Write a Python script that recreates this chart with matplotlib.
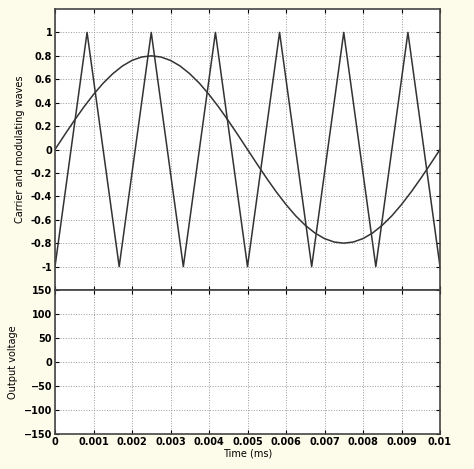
import matplotlib
matplotlib.use("Agg")
import matplotlib.pyplot as plt

carrier_t = [0, 0.000833, 0.001667, 0.0025, 0.003333, 0.004167, 0.005, 0.005833, 0.006667, 0.0075, 0.008333, 0.009167, 0.01]
carrier_v = [-1, 1, -1, 1, -1, 1, -1, 1, -1, 1, -1, 1, -1]
mod_t = [i * 0.00025 for i in range(41)]
_q = [0, 0.125, 0.247, 0.363, 0.470, 0.566, 0.647, 0.713, 0.761, 0.790, 0.8]
mod_v = _q + _q[-2::-1] + [-v for v in _q[1:]] + [-v for v in _q[-2::-1]]
xticks = [0, 0.001, 0.002, 0.003, 0.004, 0.005, 0.006, 0.007, 0.008, 0.009, 0.01]
xlabels = ["0", "0.001", "0.002", "0.003", "0.004", "0.005", "0.006", "0.007", "0.008", "0.009", "0.01"]
yticks_top = [-1, -0.8, -0.6, -0.4, -0.2, 0, 0.2, 0.4, 0.6, 0.8, 1]
ytick_top_labels = ["-1", "-0.8", "-0.6", "-0.4", "-0.2", "0", "0.2", "0.4", "0.6", "0.8", "1"]
yticks_bot = [-150, -100, -50, 0, 50, 100, 150]

fig = plt.figure(figsize=(4.74, 4.69), dpi=100, facecolor="#fdfbea")
ax1 = fig.add_axes([55/474, 1-290/469, 385/474, 281/469])
ax2 = fig.add_axes([55/474, 1-434/469, 385/474, 144/469])

ax1.plot(carrier_t, carrier_v, color="#333333", lw=1.1)
ax1.plot(mod_t, mod_v, color="#333333", lw=1.1)
ax1.set_xlim(0, 0.01); ax1.set_ylim(-1.2, 1.2)
ax1.set_yticks(yticks_top); ax1.set_yticklabels(ytick_top_labels)
ax1.set_xticks(xticks); ax1.set_xticklabels([])
ax1.set_ylabel("Carrier and modulating waves", fontsize=7)

ax2.set_xlim(0, 0.01); ax2.set_ylim(-150, 150)
ax2.set_yticks(yticks_bot)
ax2.set_xticks(xticks); ax2.set_xticklabels(xlabels)
ax2.set_xlabel("Time (ms)", fontsize=7, labelpad=1)
ax2.set_ylabel("Output voltage", fontsize=7)

for ax in (ax1, ax2):
    ax.set_facecolor("white")
    ax.grid(True, linestyle=":", color="#999999", lw=0.7)
    ax.tick_params(direction="in", labelsize=7, length=3, top=True, right=True, pad=2)
    for s in ax.spines.values():
        s.set_color("#444444"); s.set_linewidth(1.2)
    for lab in ax.get_xticklabels() + ax.get_yticklabels():
        lab.set_fontweight("bold")

fig.savefig("out.png", dpi=100, facecolor=fig.get_facecolor())
